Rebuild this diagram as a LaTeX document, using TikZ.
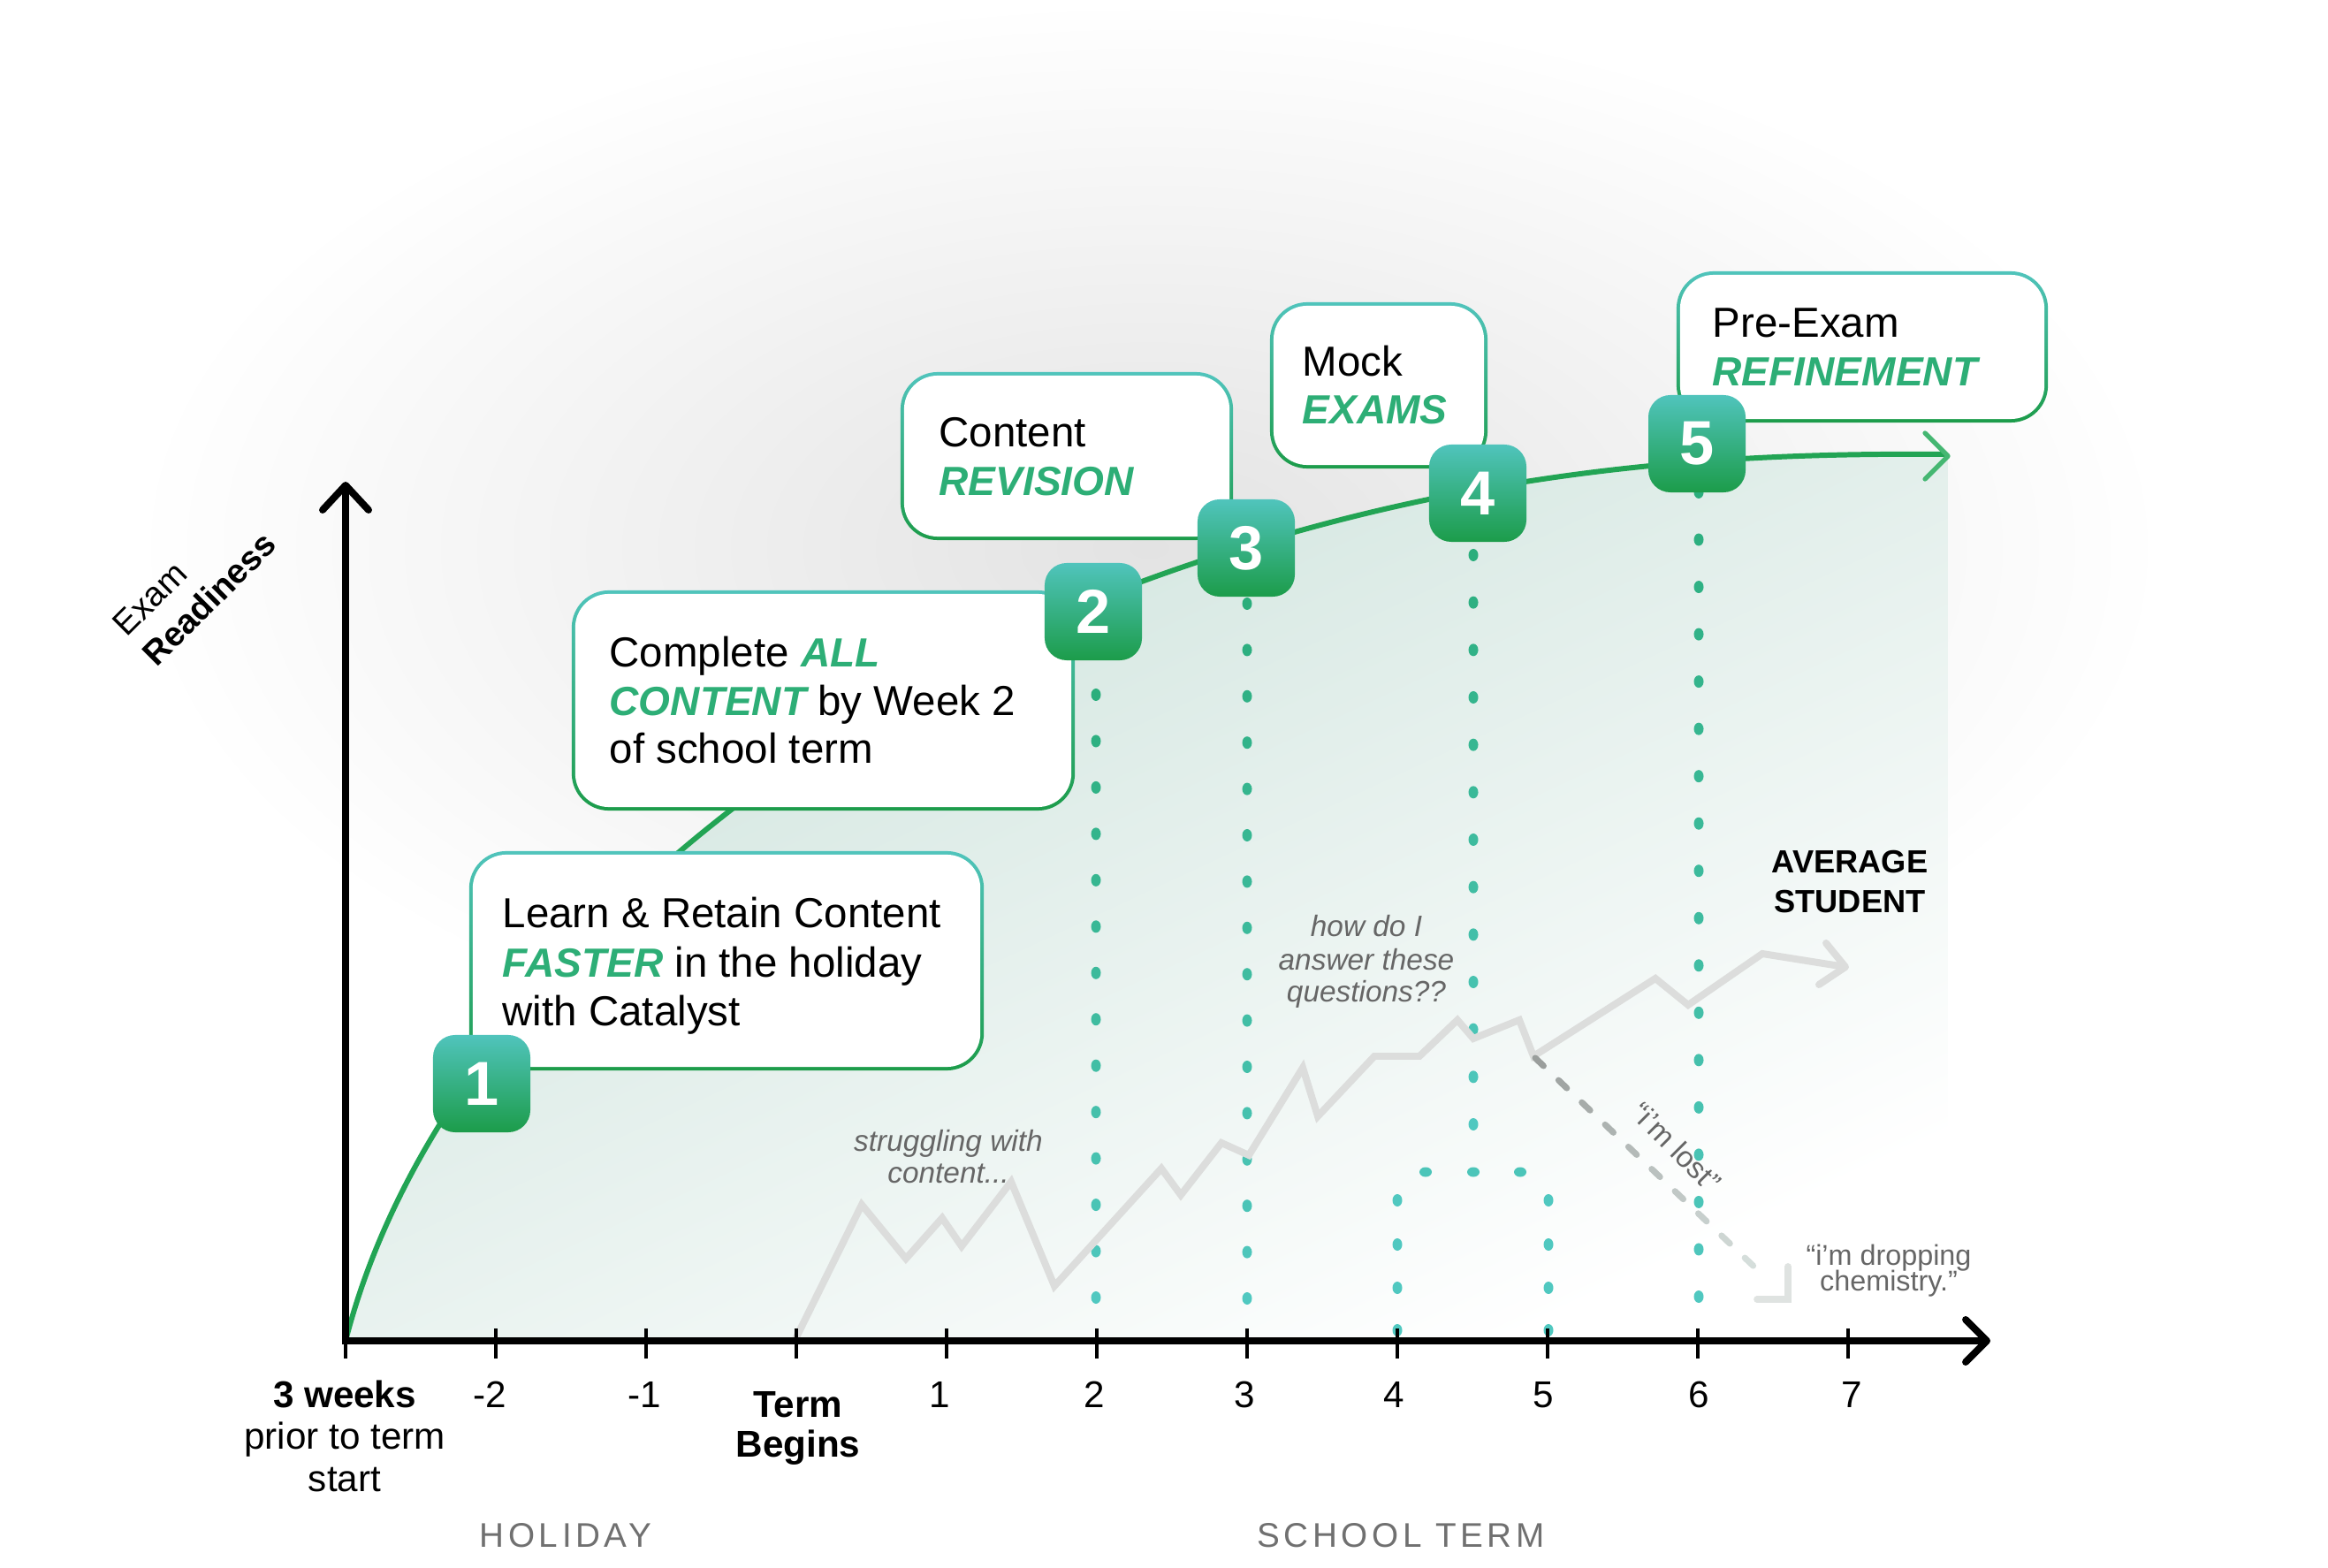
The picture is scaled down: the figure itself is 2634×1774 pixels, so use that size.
\documentclass[tikz,border=0pt]{standalone}
\usepackage{fontspec}
\setmainfont{Liberation Sans}
\newfontfamily\spacedfont[LetterSpace=12]{Liberation Sans}
\usetikzlibrary{calc}
\definecolor{tealc}{HTML}{50C4BC}
\definecolor{greenc}{HTML}{1C9C4A}
\definecolor{curvec}{HTML}{22A454}
\definecolor{tipc}{HTML}{45B772}
\definecolor{hlgreen}{HTML}{2DAE76}
\definecolor{dottop}{HTML}{2BAE7C}
\definecolor{dotbot}{HTML}{50C8C0}
\definecolor{avggray}{HTML}{DCDDDC}
\definecolor{notegray}{HTML}{666666}
\definecolor{tint}{HTML}{CCE2DB}
\definecolor{termgray}{HTML}{707070}
\definecolor{dashA}{HTML}{9A9E9C}
\definecolor{dashB}{HTML}{D5DEDB}
\definecolor{lostarrowc}{HTML}{DFE3E1}
\newcommand{\hlw}[1]{{\fontsize{13.1}{16}\selectfont\bfseries\itshape\color{hlgreen}#1}}
\begin{document}
\begin{tikzpicture}[x=0.01cm,y=-0.01cm,
  boxtext/.style={anchor=base west, inner sep=0pt, text=black, font=\fontsize{13.5}{16}\selectfont},
  badge/.style={minimum width=1.1cm, minimum height=1.1cm, inner sep=0pt, rounded corners=0.25cm, top color=tealc, bottom color=greenc, text=white, font=\bfseries\fontsize{20}{20}\selectfont},
  cardouter/.style 2 args={minimum width=#1, minimum height=#2, inner sep=0pt, rounded corners=0.42cm, top color=tealc, bottom color=greenc},
  cardinner/.style 2 args={minimum width=#1, minimum height=#2, inner sep=0pt, rounded corners=0.38cm, fill=white},
  axisline/.style={line width=2.27pt, black},
  axistip/.style={line width=2.27pt, black, line cap=round, line join=round},
  tickmark/.style={line width=1.1pt, black},
  ticklabel/.style={anchor=base, inner sep=0pt, font=\fontsize{12}{14}\selectfont},
  ticklabelb/.style={anchor=base, inner sep=0pt, font=\bfseries\fontsize{12}{14}\selectfont},
  curveline/.style={line width=1.7pt, curvec},
  curvetip/.style={line width=1.5pt, tipc, line cap=round, line join=round},
  avgline/.style={line width=2.27pt, avggray},
  lostarrow/.style={line width=2.2pt, lostarrowc, line cap=round},
  note/.style={anchor=base, inner sep=0pt, text=notegray, font=\itshape\fontsize{9.5}{11}\selectfont},
  quote/.style={anchor=base, inner sep=0pt, text=notegray, font=\fontsize{9.2}{11}\selectfont},
  period/.style={anchor=base, inner sep=0pt, text=termgray, font=\spacedfont\fontsize{11}{13}\selectfont}
]
\useasboundingbox (0,0) rectangle (2634,1774);
\clip (0,0) rectangle (2634,1774);
\fill[white] (0,0) rectangle (2634,1774);

% soft grey halo
\shade[inner color=black!11, outer color=white] (1300,620) ellipse [x radius=1150, y radius=620];

% tinted area under the readiness curve
\begin{scope}
  \clip (391,1517) .. controls (490,1130) and (900,800) .. (1300,655) .. controls (1650,528) and (1950,512) .. (2204,514) -- (2204,1517) -- cycle;
  \shade[top color=tint, middle color=tint!45!white, bottom color=white, shading angle=25] (391,500) rectangle (2204,1517);
\end{scope}

% dotted guide lines
\foreach \xx/\ya/\yb/\n in {1240/786/1468/13, 1411/683/1469/15, 1667/628/1272/12, 1922/557/1467/17} {
  \foreach \k in {0,...,\n} {
    \pgfmathsetmacro\yy{\ya+(\yb-\ya)*\k/\n}
    \pgfmathtruncatemacro\pp{100*\k/\n}
    \fill[dotbot!\pp!dottop] (\xx,\yy) ellipse [x radius=5.5, y radius=7];
  }
}
% dotted arch
\foreach \ax in {1613,1667,1720} \fill[dotbot!90!dottop] (\ax,1326) ellipse [x radius=7, y radius=5.5];
\foreach \ay in {1358,1408,1457,1505} {
  \fill[dotbot] (1581,\ay) ellipse [x radius=5.5, y radius=7];
  \fill[dotbot] (1752,\ay) ellipse [x radius=5.5, y radius=7];
}

% average student line
\draw[avgline] (900,1515) -- (975,1363) -- (1025,1424) -- (1066,1378) -- (1088,1410) -- (1144,1337) -- (1193,1455) -- (1314,1322) -- (1336,1352) -- (1382,1293) -- (1413,1307) -- (1474,1208) -- (1491,1263) -- (1555,1195) -- (1606,1195) -- (1649,1154) -- (1667,1175) -- (1719,1154) -- (1735,1195) -- (1873,1107) -- (1910,1137) -- (1994,1079) -- (2088,1094);
\draw[avgline, line cap=round, line join=round] (2066,1067) -- (2088,1094) -- (2058,1114);

% "i'm lost" dashed drop
\coordinate (lostA) at (1737,1197);
\coordinate (lostB) at (2015,1462);
\foreach \k in {0,...,9} {
  \pgfmathsetmacro\ta{\k*36.4/384}
  \pgfmathsetmacro\tb{(\k*36.4+13)/384}
  \pgfmathtruncatemacro\pp{100*\k/9}
  \draw[dashB!\pp!dashA, line width=2pt, line cap=round] ($(lostA)!\ta!(lostB)$) -- ($(lostA)!\tb!(lostB)$);
}
\draw[lostarrow] (2023,1433) -- (2023,1470) -- (1988,1470);

% readiness curve
\draw[curveline] (391,1517) .. controls (490,1130) and (900,800) .. (1300,655) .. controls (1650,528) and (1950,512) .. (2200,514);
\draw[curvetip] (2178,490) -- (2204,516) -- (2178,542);

% cards
\node[cardouter={5.82cm}{2.48cm}] (c1o) at (822,1087) {};
\node[cardinner={5.74cm}{2.40cm}] (c1) at (822,1087) {};
\node[cardouter={5.69cm}{2.49cm}] (c2o) at (931.5,792.5) {};
\node[cardinner={5.61cm}{2.41cm}] (c2) at (931.5,792.5) {};
\node[cardouter={3.76cm}{1.90cm}] (c3o) at (1207,516) {};
\node[cardinner={3.68cm}{1.82cm}] (c3) at (1207,516) {};
\node[cardouter={2.46cm}{1.88cm}] (c4o) at (1560,436) {};
\node[cardinner={2.38cm}{1.80cm}] (c4) at (1560,436) {};
\node[cardouter={4.20cm}{1.71cm}] (c5o) at (2107,392.5) {};
\node[cardinner={4.12cm}{1.63cm}] (c5) at (2107,392.5) {};

% card texts
\node[boxtext] (t1a) at (568,1050) {Learn \& Retain Content};
\node[boxtext] (t1b) at (568,1105) {\hlw{FASTER} in the holiday};
\node[boxtext] (t1c) at (568,1160) {with Catalyst};
\node[boxtext] (t2a) at (689,755) {Complete \hlw{ALL}};
\node[boxtext] (t2b) at (689,810) {\hlw{CONTENT} by Week 2};
\node[boxtext] (t2c) at (689,864) {of school term};
\node[boxtext] (t3a) at (1062,506) {Content};
\node[boxtext] (t3b) at (1062,561) {\hlw{REVISION}};
\node[boxtext] (t4a) at (1473,426) {Mock};
\node[boxtext] (t4b) at (1473,480) {\hlw{EXAMS}};
\node[boxtext] (t5a) at (1937,382) {Pre-Exam};
\node[boxtext] (t5b) at (1937,437) {\hlw{REFINEMENT}};

% badges
\node[badge] (b1) at (545,1226) {1};
\node[badge] (b2) at (1237,692) {2};
\node[badge] (b3) at (1410,620) {3};
\node[badge] (b4) at (1672,558) {4};
\node[badge] (b5) at (1920,502) {5};

% axes
\coordinate (origin) at (391,1517);
\coordinate (ytop) at (391,549);
\coordinate (xend) at (2248,1517);
\draw[axisline] (391,1521) -- (ytop);
\draw[axistip] (365,577) -- (ytop) -- (417,577);
\draw[axisline] (387,1517) -- (xend);
\draw[axistip] (2224,1493) -- (xend) -- (2224,1541);
\foreach \tx in {391,561,...,2091} \draw[tickmark] (\tx,1503) -- (\tx,1537);

% axis labels
\foreach \lx/\lt [count=\i] in {554/-2, 729/-1, 1063/1, 1238/2, 1408/3, 1577/4, 1746/5, 1922/6, 2095/7}
  \node[ticklabel] (tl\i) at (\lx,1592) {\lt};
\node[ticklabelb] (wk3) at (390,1592) {3 weeks};
\node[ticklabel] (prior) at (390,1639) {prior to term};
\node[ticklabel] (startl) at (390,1687) {start};
\node[ticklabelb] (term) at (903,1603) {Term};
\node[ticklabelb] (begins) at (903,1648) {Begins};
\node[period] (holiday) at (640,1750) {HOLIDAY};
\node[period] (schoolterm) at (1585,1750) {SCHOOL TERM};

\node[rotate=45, inner sep=0pt, align=left, font=\fontsize{11}{13.6}\selectfont] (examreadiness) at (220,661) {Exam\\\textbf{Readiness}};

% notes
\node[note] (n1a) at (1073,1302) {struggling with};
\node[note] (n1b) at (1073,1338) {content...};
\node[note] (n2a) at (1546,1060) {how do I};
\node[note] (n2b) at (1546,1097) {answer these};
\node[note] (n2c) at (1546,1133) {questions??};
\node[rotate=-45, inner sep=0pt, text=notegray, font=\fontsize{9.5}{11}\selectfont] (lost) at (1897,1298) {“i’m lost”};
\node[quote] (drop1) at (2137,1431) {“i’m dropping};
\node[quote] (drop2) at (2137,1460) {chemistry.”};
\node[anchor=base, inner sep=0pt, font=\bfseries\fontsize{10.3}{12}\selectfont] (avg1) at (2093,988) {AVERAGE};
\node[anchor=base, inner sep=0pt, font=\bfseries\fontsize{10.3}{12}\selectfont] (avg2) at (2093,1032) {STUDENT};
\end{tikzpicture}
\end{document}
